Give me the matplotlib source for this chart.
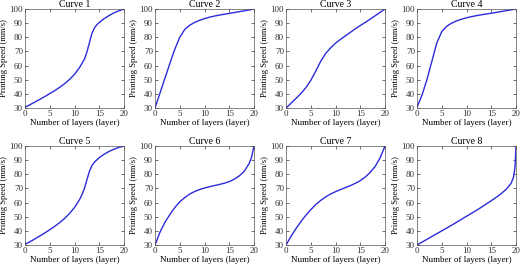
import numpy as np
import matplotlib
matplotlib.use('Agg')
import matplotlib.pyplot as plt

plt.rcParams['font.family'] = ['Liberation Serif', 'DejaVu Serif']

layers = list(range(21))

# values, one list per curve
layers1 = list(range(13)) + [12.5, 13, 13.5, 14, 14.5, 15, 16, 17, 18, 19, 20]
layers1 = sorted(set(layers1))
curve1 = [30.5, 32.3, 34.2, 36.1, 38.1, 40.2, 42.3, 44.6, 47.2, 50.2, 53.8,
          58.5, 64.5, 69.5, 76, 82.5, 86.5, 88.8, 90.5, 93.2, 95.4, 97.3, 98.8, 100]
curve2 = [30, 40.5, 51, 61.5, 71.5, 80, 85.5, 88.5, 90.5, 92, 93.2,
          94.2, 95, 95.7, 96.3, 96.9, 97.5, 98.1, 98.7, 99.3, 100]
curve3 = [30, 33.3, 36.7, 40.2, 44.3, 49.5, 56, 63, 68.5, 72.5, 75.8,
          78.5, 81, 83.5, 86, 88.3, 90.5, 92.8, 95.2, 97.6, 100]
curve4 = [30.5, 39, 50, 63, 76, 84, 87.8, 90, 91.6, 92.8, 93.8,
          94.6, 95.3, 95.9, 96.5, 97, 97.6, 98.2, 98.8, 99.4, 100]
layers5 = [0, 1, 2, 3, 4, 5, 6, 7, 8, 9, 10, 11, 11.5, 12, 12.5, 13, 13.5,
           14, 15, 16, 17, 18, 19, 20]
curve5 = [30.5, 32.3, 34.3, 36.4, 38.5, 40.8, 43.2, 45.8, 48.8, 52.3, 56.5,
          62, 65.5, 70, 76, 82, 86, 88.5, 91.8, 94.2, 96.2, 97.8, 99, 100]
layers6 = layers[:20] + [19.5, 20]
curve6 = [30, 39, 46, 51.5, 56.5, 60.5, 63.5, 66, 67.8, 69.2, 70.3,
          71.2, 72, 72.8, 73.7, 74.8, 76.5, 78.8, 82, 87.5, 92, 100]
curve7 = [30, 36, 41.5, 46.5, 51, 55, 58.5, 61.5, 64, 66, 67.7,
          69.2, 70.6, 72, 73.6, 75.5, 78, 81.3, 85.5, 91.5, 100]
layers8 = layers[:20] + [19.5, 19.8, 20]
curve8 = [30, 32, 34, 36, 38, 40, 42, 44, 46.1, 48.2, 50.3,
          52.4, 54.5, 56.7, 59, 61.3, 63.7, 66.3, 69.3, 73.5, 78, 85, 100]

series = [(layers1, curve1), (layers, curve2), (layers, curve3), (layers, curve4),
          (layers5, curve5), (layers6, curve6), (layers, curve7), (layers8, curve8)]

fig = plt.figure(figsize=(5.2, 2.66), dpi=100)
lefts = [25, 155, 286, 417]
tops = [9, 146]
for i, (xs, ys) in enumerate(series):
    r, c = divmod(i, 4)
    ax = fig.add_axes([lefts[c] / 520, 1 - (tops[r] + 99) / 266, 99 / 520, 99 / 266])
    ax.plot(xs, ys, color='#2b2bdc', lw=1.0)
    ax.set_xlim(0, 20)
    ax.set_ylim(30, 100)
    ax.set_xticks([0, 5, 10, 15, 20])
    ax.set_yticks(range(30, 101, 10))
    ax.tick_params(direction='in', length=2, width=0.5, labelsize=6.5, pad=1.5,
                   top=True, right=True, colors='#333333')
    for s in ax.spines.values():
        s.set_linewidth(0.5)
        s.set_color('#555555')
    ax.set_title('Curve %d' % (i + 1), fontsize=7, pad=1.5)
    ax.set_xlabel('Number of layers (layer)', fontsize=6.5, labelpad=1)
    ax.set_ylabel('Printing Speed (mm/s)', fontsize=6.2, labelpad=1)

fig.savefig('out.png', dpi=100)
